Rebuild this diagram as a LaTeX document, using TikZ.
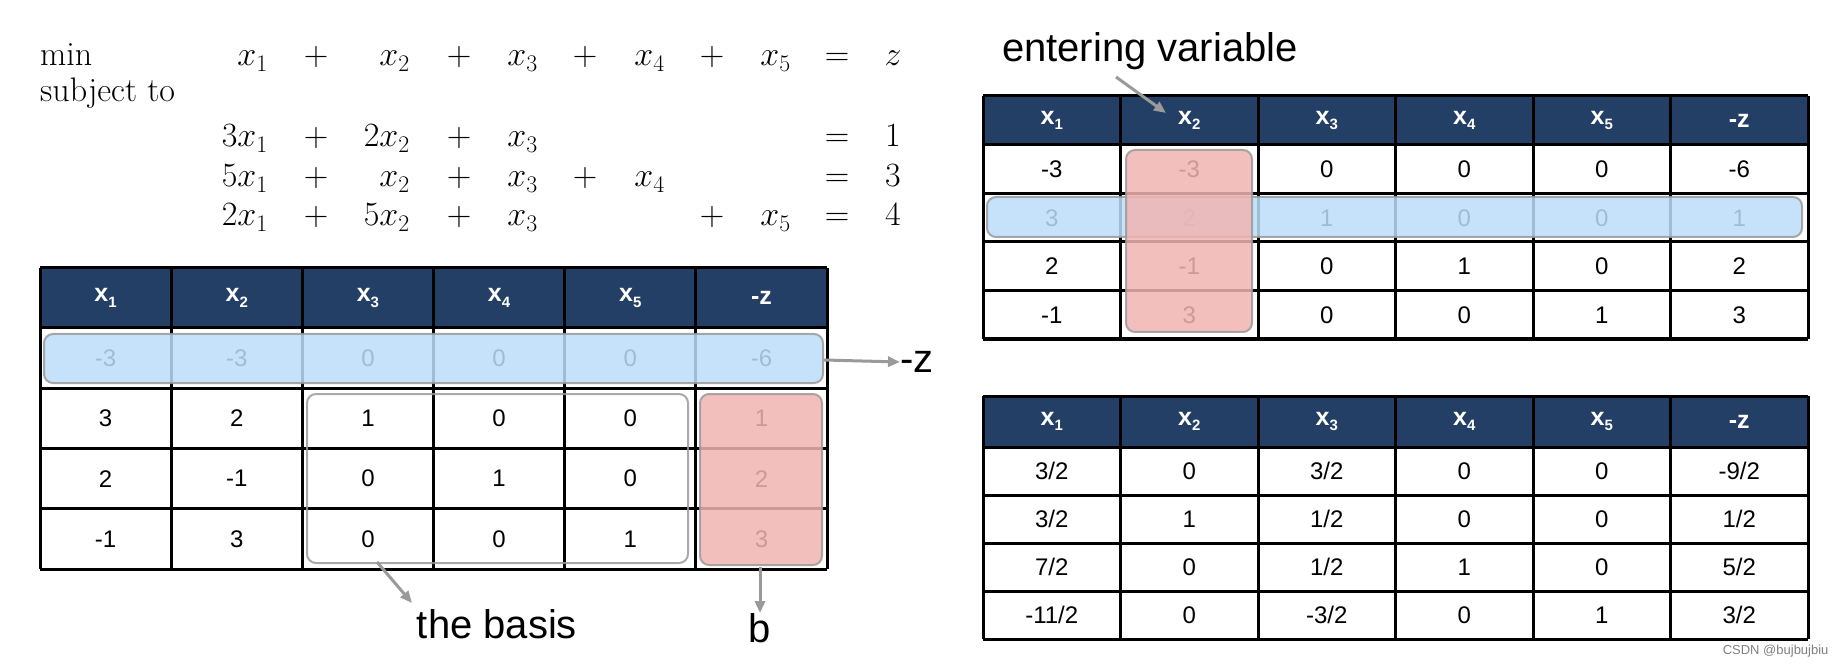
\RequirePackage{fix-cm}
\documentclass[tikz,border=0pt]{standalone}
\usepackage{fontspec}
\newfontfamily\arial{Liberation Sans}
\definecolor{navy}{HTML}{243F66}
\definecolor{hlblue}{HTML}{BBDDF9}
\definecolor{hlred}{HTML}{F0B4B2}
\definecolor{boxgray}{HTML}{9A9A9A}
\newcommand\sbx[1]{x\raisebox{-0.22em}{\fontsize{15}{15}\selectfont #1}}
\tikzset{
  cell/.style={font=\arial\fontsize{24}{24}\selectfont, inner sep=0pt},
  hcell/.style={font=\arial\bfseries\fontsize{25}{25}\selectfont, text=white, inner sep=0pt},
  grid/.style={line width=3pt, black},
  hlbox/.style={rounded corners=9pt, draw=boxgray, line width=2pt, opacity=0.85},
  callout/.style={font=\arial\fontsize{40}{40}\selectfont, inner sep=0pt},
  garrow/.style={-{Triangle[length=12pt,width=10pt]}, line width=3pt, draw=boxgray},
  eq/.style={font=\fontsize{34}{40}\selectfont, inner sep=0pt},
}
\usetikzlibrary{arrows.meta}
\begin{document}
\begin{tikzpicture}[x=1pt,y=-1pt]
\useasboundingbox (0,0) rectangle (1834,668);
% ---------- equations ----------
\node[eq,anchor=base west] (min) at (40,66) {min};
\node[eq,anchor=base west] (st) at (40,102) {subject to};
\foreach \yy/\a/\b/\c/\d/\e/\rhs [count=\i] in {
  66/x_1/x_2/x_3/x_4/x_5/z,
  147/3x_1/2x_2/x_3//{}/1,
  187/5x_1/x_2/x_3/x_4/{}/3,
  226/2x_1/5x_2/x_3//x_5/4}{
  \node[eq,anchor=base east] (e\i a) at (268,\yy) {$\a$};
  \node[eq,anchor=base] (e\i p1) at (316,\yy) {$+$};
  \node[eq,anchor=base east] (e\i b) at (410,\yy) {$\b$};
  \node[eq,anchor=base] (e\i p2) at (459,\yy) {$+$};
  \node[eq,anchor=base east] (e\i c) at (538,\yy) {$\c$};
  \node[eq,anchor=base east] (e\i d) at (665,\yy) {$\d$};
  \node[eq,anchor=base east] (e\i e) at (791,\yy) {$\e$};
  \node[eq,anchor=base] (e\i q) at (837,\yy) {$=$};
  \node[eq,anchor=base] (e\i r) at (893,\yy) {$\rhs$};
}
\node[eq,anchor=base] (e1p3) at (585,66) {$+$};
\node[eq,anchor=base] (e1p4) at (712,66) {$+$};
\node[eq,anchor=base] (e3p3) at (585,187) {$+$};
\node[eq,anchor=base] (e4p4) at (712,226) {$+$};
% ---------- tables ----------
\foreach \t/\x/\w/\yt/\yh/\h in {L/40/131.17/268/328/60.25, A/983/137.5/96/145/48.5, B/983/137.5/396/447/48}{
  \fill[navy] (\x,\yt) rectangle ({\x+6*\w},\yh);
  \foreach \hd [count=\c] in {\sbx1,\sbx2,\sbx3,\sbx4,\sbx5,-z}
    \node[hcell] (\t h\c) at ({\x+(\c-0.5)*\w},{(\yt+\yh)/2}) {\hd};
  \foreach \k in {0,...,6}
    \draw[grid] ({\x+\k*\w},\yt) -- ({\x+\k*\w},{\yh+4*\h});
  \draw[grid] (\x,\yt) -- ({\x+6*\w},\yt);
  \foreach \k in {0,...,4}
    \draw[grid] (\x,{\yh+\k*\h}) -- ({\x+6*\w},{\yh+\k*\h});
}
\foreach \t/\x/\w/\yh/\h/\data in {
  L/40/131.17/328/60.25/{{-3,-3,0,0,0,-6},{3,2,1,0,0,1},{2,-1,0,1,0,2},{-1,3,0,0,1,3}},
  A/983/137.5/145/48.5/{{-3,-3,0,0,0,-6},{3,2,1,0,0,1},{2,-1,0,1,0,2},{-1,3,0,0,1,3}},
  B/983/137.5/447/48/{{3/2,0,3/2,0,0,-9/2},{3/2,1,1/2,0,0,1/2},{7/2,0,1/2,1,0,5/2},{-11/2,0,-3/2,0,1,3/2}}}{
  \foreach \row [count=\r] in \data
    \foreach \v [count=\c] in \row
      \node[cell] (\t r\r c\c) at ({\x+(\c-0.5)*\w},{\yh+(\r-0.5)*\h}) {\v};
}
% ---------- highlights ----------
\draw[hlbox,fill=hlblue] (44,334) rectangle (823,383);
\draw[hlbox] (307,394) rectangle (688,563);
\draw[hlbox,fill=hlred] (700,394) rectangle (822,565);
\draw[hlbox,fill=hlblue] (987,197) rectangle (1802,237);
\draw[hlbox,fill=hlred] (1126,150) rectangle (1252,332);
% ---------- callouts ----------
\node[callout,anchor=west] (mz) at (900,362) {-z};
\node[callout] (basis) at (497,624) {the basis};
\node[callout] (bb) at (760,628) {b};
\node[callout] (ent) at (1150,51) {entering variable};
\coordinate (mzs) at (824,360);
\coordinate (bs) at (377,562);
\coordinate (be) at (412,603);
\coordinate (bbs) at (760,567);
\coordinate (es) at (1116,77);
\coordinate (ee) at (1166,113);
\draw[garrow] (mzs) -- (mz.west);
\draw[garrow] (bs) -- (be);
\draw[garrow] (bbs) -- (bb.north);
\draw[garrow] (es) -- (ee);
\node[font=\arial\fontsize{13}{13}\selectfont, text=gray, anchor=east] (wm) at (1832,651) {CSDN @bujbujbiu};
\end{tikzpicture}
\end{document}
